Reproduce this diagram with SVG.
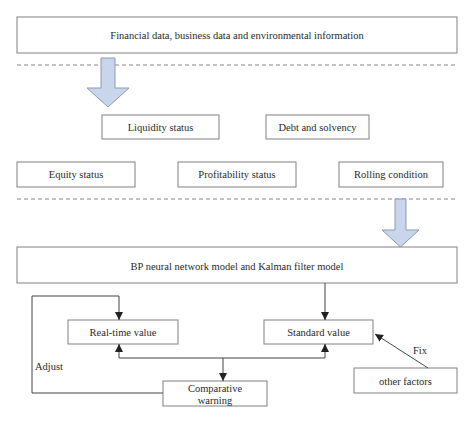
<svg xmlns="http://www.w3.org/2000/svg" width="474" height="423" viewBox="0 0 474 423">
<style>
.box{fill:#fff;stroke:#808080;stroke-width:1}
.t{font-family:"Liberation Serif","Times New Roman",serif;font-size:10.5px;fill:#2a2a2a;text-anchor:middle;dominant-baseline:central}
.dash{stroke:#888;stroke-width:1;stroke-dasharray:4,3;fill:none}
.big{fill:#c8d5ea;stroke:#8c9bb3;stroke-width:1}
.ln{stroke:#444;stroke-width:1;fill:none}
</style>
<defs>
<marker id="ah" viewBox="0 0 10 10" refX="10" refY="5" markerWidth="8" markerHeight="8" markerUnits="userSpaceOnUse" orient="auto">
<path d="M0,0 L10,5 L0,10 z" fill="#222"/>
</marker>
</defs>
<rect width="474" height="423" fill="#fff"/>
<g id="separators">
<line class="dash" x1="17" y1="65" x2="457" y2="65"/>
<line class="dash" x1="17" y1="199" x2="457" y2="199"/>
</g>
<g id="n-source"><rect class="box" x="17" y="17" width="440" height="36"/><text class="t" x="237" y="35">Financial data, business data and environmental information</text></g>
<g id="bigarrow1"><path class="big" d="M101,58 L115,58 L115,88 L129,88 L108,107 L87,88 L101,88 Z"/></g>
<g id="n-liquidity"><rect class="box" x="102" y="115" width="117" height="24"/><text class="t" x="160.5" y="127">Liquidity status</text></g>
<g id="n-debt"><rect class="box" x="266" y="115" width="103" height="24"/><text class="t" x="317.5" y="127">Debt and solvency</text></g>
<g id="n-equity"><rect class="box" x="17" y="162" width="118" height="25"/><text class="t" x="76" y="174.5">Equity status</text></g>
<g id="n-profit"><rect class="box" x="178" y="162" width="118" height="25"/><text class="t" x="237" y="174.5">Profitability status</text></g>
<g id="n-rolling"><rect class="box" x="339" y="162" width="104" height="25"/><text class="t" x="391" y="174.5">Rolling condition</text></g>
<g id="bigarrow2"><path class="big" d="M395,199 L406,199 L406,230 L419,230 L400.5,247 L382,230 L395,230 Z"/></g>
<g id="n-model"><rect class="box" x="17" y="247" width="440" height="36"/><text class="t" x="237" y="266">BP neural network model and Kalman filter model</text></g>
<g id="n-realtime"><rect class="box" x="68" y="320" width="110" height="24"/><text class="t" x="123" y="332">Real-time value</text></g>
<g id="n-standard"><rect class="box" x="264" y="320" width="109" height="24"/><text class="t" x="318.5" y="332">Standard value</text></g>
<g id="n-warning"><rect class="box" x="163" y="381" width="104" height="25"/><text class="t" x="215" y="388">Comparative</text><text class="t" x="215" y="400">warning</text></g>
<g id="n-other"><rect class="box" x="354" y="368" width="103" height="25"/><text class="t" x="405.5" y="381">other factors</text></g>
<g id="connectors">
<line class="ln" x1="325" y1="283" x2="325" y2="320" marker-end="url(#ah)"/>
<polyline class="ln" points="163,393 32,393 32,296 119,296 119,320" marker-end="url(#ah)"/>
<line class="ln" x1="119" y1="358" x2="325" y2="358"/>
<line class="ln" x1="119" y1="358" x2="119" y2="344" marker-end="url(#ah)"/>
<line class="ln" x1="325" y1="358" x2="325" y2="344" marker-end="url(#ah)"/>
<line class="ln" x1="223" y1="358" x2="223" y2="381" marker-end="url(#ah)"/>
<line class="ln" x1="428" y1="368" x2="375" y2="334" marker-end="url(#ah)"/>
<text class="t" x="49" y="366">Adjust</text>
<text class="t" x="420" y="350">Fix</text>
</g>
</svg>
